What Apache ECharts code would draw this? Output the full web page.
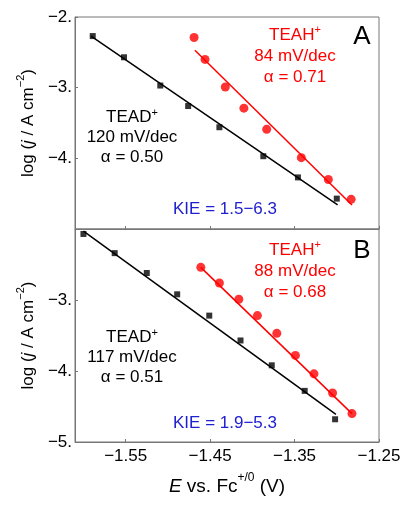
<!DOCTYPE html>
<html><head><meta charset="utf-8">
<script src="https://cdn.jsdelivr.net/npm/echarts@6/dist/echarts.min.js"></script>
<style>html,body{margin:0;padding:0;background:#fff}#c{width:408px;height:507px}</style>
</head><body><div id="c"></div>
<script>
// ---- data ----
const xTickValues = [-1.55, -1.45, -1.35, -1.25];
const yTicksA = [-2, -3, -4];
const yTicksB = [-3, -4, -5];

// Panel A
const aTeadE = [-1.589, -1.552, -1.509, -1.476, -1.439, -1.387, -1.346, -1.300];
const aTeadJ = [-2.27, -2.57, -2.97, -3.26, -3.56, -3.97, -4.27, -4.57];
const aTeahE = [-1.469, -1.456, -1.432, -1.410, -1.383, -1.342, -1.310, -1.283];
const aTeahJ = [-2.29, -2.60, -2.99, -3.29, -3.59, -3.99, -4.30, -4.58];
const aTeadFit = [[-1.591, -2.27], [-1.299, -4.66]];
const aTeahFit = [[-1.468, -2.47], [-1.282, -4.66]];

// Panel B
const bTeadE = [-1.600, -1.563, -1.525, -1.489, -1.451, -1.414, -1.377, -1.338, -1.302];
const bTeadJ = [-2.07, -2.34, -2.62, -2.92, -3.22, -3.57, -3.92, -4.28, -4.68];
const bTeahE = [-1.461, -1.439, -1.416, -1.394, -1.371, -1.349, -1.327, -1.305, -1.282];
const bTeahJ = [-2.54, -2.76, -2.99, -3.22, -3.47, -3.78, -4.04, -4.31, -4.60];
const bTeadFit = [[-1.600, -2.03], [-1.301, -4.61]];
const bTeahFit = [[-1.461, -2.54], [-1.282, -4.60]];

const FONT = "'Liberation Sans', Arial, sans-serif";
const zip = (xs, ys) => xs.map((x, i) => [x, ys[i]]);
const minus = v => (v < 0 ? '\u2212' : '') + Math.abs(v);

const chart = echarts.init(document.getElementById('c'), null, {renderer: 'canvas'});

function xAxis(gi, showLabels) {
  return {
    type: 'value', gridIndex: gi, min: -1.61, max: -1.25,
    axisLine: {show: true, onZero: false, lineStyle: {color: '#777', width: 1}},
    axisTick: {show: true, inside: true, length: 3, customValues: xTickValues, lineStyle: {color: '#777'}},
    axisLabel: {show: showLabels, customValues: xTickValues, margin: 6, fontSize: 17, color: '#000', fontFamily: FONT,
      formatter: v => '\u2212' + Math.abs(v).toFixed(2)},
    splitLine: {show: false},
    name: showLabels ? '{i|E}{n| vs. Fc}{s|+/0}{n| (V)}' : '',
    nameLocation: 'middle', nameGap: 30,
    nameTextStyle: {fontFamily: FONT, fontSize: 19, color: '#000', rich: {
      n: {fontSize: 19, fontFamily: FONT, lineHeight: 24, verticalAlign: 'bottom'},
      i: {fontSize: 19, fontFamily: FONT, fontStyle: 'italic', lineHeight: 24, verticalAlign: 'bottom'},
      s: {fontSize: 12, fontFamily: FONT, lineHeight: 13, verticalAlign: 'top'}
    }}
  };
}
function yAxis(gi, ticks) {
  return {
    type: 'value', gridIndex: gi, min: -5, max: -2, interval: 1,
    axisLine: {show: true, onZero: false, lineStyle: {color: '#777', width: 1}},
    axisTick: {show: true, inside: true, length: 3, customValues: ticks, lineStyle: {color: '#777'}},
    axisLabel: {show: true, customValues: ticks, margin: 3, fontSize: 17, color: '#000', fontFamily: FONT,
      formatter: v => minus(v) + '.'},
    splitLine: {show: false},
    name: '{n|log (}{i|j}{n| / A cm}{s|\u22122}{n|)}',
    nameLocation: 'middle', nameRotate: 90, nameGap: 33,
    nameTextStyle: {fontFamily: FONT, fontSize: 17, color: '#000', rich: {
      n: {fontSize: 17, fontFamily: FONT, lineHeight: 22, verticalAlign: 'bottom'},
      i: {fontSize: 17, fontFamily: FONT, fontStyle: 'italic', lineHeight: 22, verticalAlign: 'bottom'},
      s: {fontSize: 11, fontFamily: FONT, lineHeight: 12, verticalAlign: 'top'}
    }}
  };
}
function scatter(gi, data, color, symbol, size) {
  return {type: 'scatter', xAxisIndex: gi, yAxisIndex: gi, data, symbol, symbolSize: size,
    itemStyle: {color}, z: 3, silent: true};
}
function fit(gi, data, color) {
  return {type: 'line', xAxisIndex: gi, yAxisIndex: gi, data, symbol: 'none',
    lineStyle: {color, width: 1.5}, z: 2, silent: true};
}
function txt(x, y, text, color, size, lh) {
  return {type: 'text', x, y, silent: true, style: {
    text, fill: color, align: 'center', verticalAlign: 'middle', font: size + 'px ' + FONT,
    rich: {
      t: {fontSize: size, fontFamily: FONT, fill: color, lineHeight: lh},
      p: {fontSize: Math.round(size * 0.65), fontFamily: FONT, fill: color, lineHeight: lh, verticalAlign: 'top', padding: [0, 0, 6, 0]}
    }}};
}

chart.setOption({
  animation: false,
  backgroundColor: '#fff',
  grid: [
    {left: 75, top: 17, width: 304, height: 212, show: true, borderColor: '#777', borderWidth: 1},
    {left: 75, top: 229, width: 304, height: 213, show: true, borderColor: '#777', borderWidth: 1}
  ],
  xAxis: [xAxis(0, false), xAxis(1, true)],
  yAxis: [yAxis(0, yTicksA), yAxis(1, yTicksB)],
  series: [
    fit(0, aTeadFit, '#000'), fit(0, aTeahFit, '#ff0000'),
    scatter(0, zip(aTeadE, aTeadJ), '#000', 'rect', 6),
    scatter(0, zip(aTeahE, aTeahJ), '#ff0000', 'circle', 9),
    fit(1, bTeadFit, '#000'), fit(1, bTeahFit, '#ff0000'),
    scatter(1, zip(bTeadE, bTeadJ), '#000', 'rect', 6),
    scatter(1, zip(bTeahE, bTeahJ), '#ff0000', 'circle', 9)
  ],
  graphic: [
    txt(295, 56, '{t|TEAH}{p|+}\n{t|84 mV/dec}\n{t|\u03b1 = 0.71}', '#ff0000', 17, 21),
    txt(132, 137, '{t|TEAD}{p|+}\n{t|120 mV/dec}\n{t|\u03b1 = 0.50}', '#000', 17, 20),
    txt(225, 209, '{t|KIE = 1.5\u22126.3}', '#2020d0', 17, 20),
    txt(362, 37, '{t|A}', '#000', 26, 28),
    txt(295, 271, '{t|TEAH}{p|+}\n{t|88 mV/dec}\n{t|\u03b1 = 0.68}', '#ff0000', 17, 21),
    txt(132, 357, '{t|TEAD}{p|+}\n{t|117 mV/dec}\n{t|\u03b1 = 0.51}', '#000', 17, 20),
    txt(225, 423, '{t|KIE = 1.9\u22125.3}', '#2020d0', 17, 20),
    txt(362, 251, '{t|B}', '#000', 26, 28)
  ]
});
</script></body></html>
